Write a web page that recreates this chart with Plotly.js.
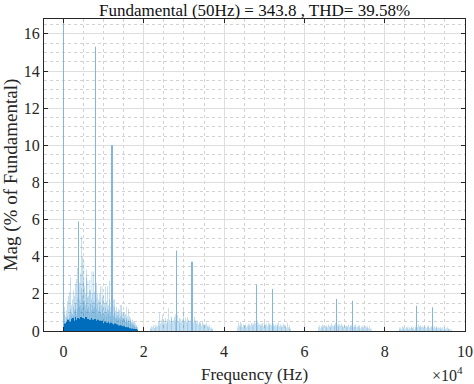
<!DOCTYPE html>
<html><head><meta charset="utf-8">
<script src="https://cdn.plot.ly/plotly-3.0.1.min.js"></script>
<style>html,body{margin:0;padding:0;background:#fff}#chart{width:474px;height:384px}</style>
</head><body><div id="chart"></div>
<script>
// ---- Data ----
const fundamentalHz = [50];
const fundamentalMag = [100];

// Band 1: 100 Hz bins from 100 Hz to 18500 Hz (light haze of harmonics)
const band1StartHz = 100, band1StepHz = 100;
const band1Mag = [
  0.6,0.9,1.3,0.5,0.8,0.4,1.1,0.7,0.5,1.6,
  0.8,0.6,1.9,0.9,0.7,2.1,1.2,2.9,0.8,1.4,
  1.0,1.7,0.9,2.2,1.3,0.8,1.9,1.1,2.5,1.2,
  1.5,0.9,2.8,1.2,3.4,1.8,2.0,2.0,1.3,2.6,
  1.7,3.1,1.4,5.1,2.3,1.2,4.0,1.9,2.7,1.5,
  3.8,1.6,2.4,1.1,2.0,1.4,2.9,3.3,1.2,1.8,
  2.7,1.3,1.9,2.2,1.0,2.75,1.5,2.2,1.1,1.7,
  3.2,1.4,2.0,1.2,3.2,1.6,2.1,1.3,2.0,2.4,
  1.8,2.6,1.2,1.5,2.0,0.9,1.7,1.1,2.0,1.3,
  1.6,2.4,1.0,1.4,0.9,2.4,1.2,1.8,0.8,1.9,
  1.1,1.5,0.9,2.4,1.3,0.8,1.6,1.0,2.4,1.2,
  0.9,1.4,1.1,1.7,2.7,1.0,0.8,1.3,0.9,1.5,
  1.6,1.2,0.9,1.7,0.8,1.3,1.0,1.7,0.7,1.1,
  0.9,0.7,1.3,0.8,1.0,0.6,1.2,0.9,0.7,1.1,
  1.4,0.8,0.6,1.0,1.4,0.7,0.9,0.6,1.0,0.7,
  0.8,0.6,1.0,0.5,0.9,1.3,0.7,0.6,0.8,0.5,
  1.2,0.6,0.5,0.8,0.4,0.7,0.5,0.6,0.4,0.5,
  0.4,0.6,0.3,0.5,0.4,0.3,0.5,0.3,0.4,0.2,
  0.3,0.2,0.3,0.2,0.1
];

// Band 1 dense floor: 200 Hz bins from 200 Hz to 18400 Hz
const band1FloorStartHz = 200, band1FloorStepHz = 200;
const band1FloorMag = [
  0.2,0.4,0.3,0.5,0.35,0.6,0.3,0.5,0.45,0.65,
  0.4,0.7,0.45,0.55,0.75,0.4,0.6,0.7,0.45,0.65,
  0.55,0.75,0.45,0.7,0.4,0.65,0.5,0.75,0.55,0.5,
  0.65,0.45,0.6,0.5,0.7,0.4,0.6,0.5,0.65,0.45,
  0.55,0.4,0.6,0.45,0.55,0.35,0.5,0.55,0.4,0.4,
  0.45,0.5,0.35,0.45,0.4,0.5,0.35,0.4,0.45,0.35,
  0.4,0.35,0.3,0.4,0.35,0.3,0.35,0.3,0.25,0.3,
  0.25,0.3,0.2,0.25,0.2,0.25,0.2,0.2,0.15,0.2,
  0.15,0.12,0.15,0.1,0.12,0.1,0.12,0.08,0.1,0.08,
  0.05,0.05
];

// Sideband clusters around multiples of the switching frequency (200 Hz bins)
const sidebandStepHz = 200;
const band2StartHz = 21600;
const band2Mag = [
  0.15,0.1,0.25,0.2,0.3,0.15,0.35,0.2,0.3,0.25,
  0.5,0.3,0.95,0.4,0.6,0.86,0.35,0.55,0.45,0.7,
  0.4,0.65,0.5,1.22,0.6,0.45,0.8,0.7,0.5,0.6,
  0.75,0.55,0.9,0.6,0.86,0.5,0.7,0.45,0.65,0.5,
  0.6,1.13,0.5,0.5,0.7,0.55,0.75,0.45,0.6,0.5,
  0.55,0.7,0.4,0.65,0.45,0.77,0.5,0.6,0.4,0.55,
  0.35,0.5,0.4,0.45,0.3,0.5,0.35,0.4,0.3,0.35,
  0.4,0.25,0.3,0.2,0.3,0.15,0.2,0.12,0.1
];
const band3StartHz = 43400;
const band3Mag = [
  0.2,0.45,0.3,0.5,0.25,0.4,0.2,0.35,0.3,0.25,
  0.35,0.2,0.3,0.4,0.25,0.35,0.3,0.45,0.3,0.4,
  0.35,0.5,0.4,0.45,0.3,0.55,0.4,0.35,0.3,0.4,
  0.3,0.45,0.25,0.5,0.35,0.3,0.4,0.25,0.45,0.3,
  0.4,0.35,0.3,0.5,0.25,0.4,0.3,0.35,0.25,0.4,
  0.3,0.45,0.25,0.35,0.2,0.3,0.25,0.4,0.2,0.3,
  0.25,0.15,0.45,0.2,0.3,0.15,0.1
];
const band4StartHz = 63600;
const band4Mag = [
  0.2,0.3,0.15,0.25,0.35,0.2,0.3,0.15,0.25,0.2,
  0.3,0.2,0.35,0.25,0.3,0.2,0.4,0.3,0.25,0.35,
  0.3,0.45,0.35,0.3,0.4,0.25,0.35,0.3,0.4,0.25,
  0.3,0.2,0.35,0.25,0.3,0.2,0.25,0.35,0.2,0.3,
  0.25,0.35,0.3,0.2,0.3,0.25,0.35,0.2,0.25,0.3,
  0.2,0.3,0.15,0.25,0.2,0.3,0.15,0.2,0.25,0.15,
  0.3,0.2,0.15,0.25,0.1,0.15
];
const band5StartHz = 83600;
const band5Mag = [
  0.1,0.2,0.15,0.1,0.25,0.15,0.2,0.1,0.15,0.2,
  0.15,0.25,0.1,0.2,0.15,0.2,0.25,0.15,0.2,0.1,
  0.2,0.3,0.25,0.2,0.35,0.25,0.2,0.3,0.2,0.25,
  0.2,0.15,0.25,0.2,0.15,0.25,0.2,0.3,0.15,0.2,
  0.25,0.2,0.3,0.2,0.25,0.15,0.2,0.25,0.15,0.2,
  0.15,0.2,0.1,0.15,0.2,0.1,0.15,0.2,0.1,0.15,
  0.2,0.1,0.15,0.1,0.05,0.1
];

// Dominant harmonic peaks
const peakHz  = [3700, 7900, 12100, 28200, 32000, 48000, 52000, 68000, 72000, 88000, 92000];
const peakMag = [5.9, 15.3, 10.0, 4.33, 3.73, 2.5, 2.26, 1.72, 1.63, 1.36, 1.28];

// Axis ticks
const xTickVals = [0, 20000, 40000, 60000, 80000, 100000];
const xTickText = ['0', '2', '4', '6', '8', '10'];
const yTickVals = [0, 2, 4, 6, 8, 10, 12, 14, 16];

// ---- Build traces ----
function binFreqs(start, step, n) {
  const out = [];
  for (let i = 0; i < n; i++) out.push(start + i * step);
  return out;
}
const hazeX = [].concat(
  binFreqs(band1StartHz, band1StepHz, band1Mag.length),
  binFreqs(band2StartHz, sidebandStepHz, band2Mag.length),
  binFreqs(band3StartHz, sidebandStepHz, band3Mag.length),
  binFreqs(band4StartHz, sidebandStepHz, band4Mag.length),
  binFreqs(band5StartHz, sidebandStepHz, band5Mag.length)
);
const hazeY = [].concat(band1Mag, band2Mag, band3Mag, band4Mag, band5Mag);

const SERIF = 'Liberation Serif';

const traces = [
  { type: 'bar', x: hazeX, y: hazeY, width: 55,
    marker: { color: 'rgba(0,114,189,0.99)', line: { width: 0 } }, hoverinfo: 'skip' },
  { type: 'bar', x: fundamentalHz.concat(peakHz), y: fundamentalMag.concat(peakMag), width: 60,
    marker: { color: 'rgb(130,182,225)', line: { width: 0 } }, hoverinfo: 'skip' },
  { type: 'bar', x: binFreqs(band1FloorStartHz, band1FloorStepHz, band1FloorMag.length), y: band1FloorMag, width: 200,
    marker: { color: 'rgb(0,108,188)', line: { width: 0 } }, hoverinfo: 'skip' }
];

const axisCommon = {
  ticks: 'inside', ticklen: 4, tickwidth: 1, tickcolor: '#262626',
  showline: true, linecolor: '#262626', linewidth: 1, mirror: 'ticks',
  showgrid: true, gridcolor: '#dedede', gridwidth: 1, zeroline: false,
  tickfont: { family: SERIF, size: 16, color: '#262626' }
};

const layout = {
  width: 474, height: 384,
  margin: { l: 44, r: 9, t: 19, b: 53 },
  paper_bgcolor: '#ffffff', plot_bgcolor: '#ffffff',
  barmode: 'overlay', showlegend: false,
  font: { family: SERIF, color: '#262626' },
  title: { text: 'Fundamental (50Hz) = 343.8 , THD= 39.58%', font: { family: SERIF, size: 17, color: '#111' },
           x: 0.5, xref: 'paper', xanchor: 'center', y: 1 - 10 / 384, yref: 'container', yanchor: 'middle' },
  xaxis: Object.assign({}, axisCommon, {
    range: [-4850, 100000], tickmode: 'array', tickvals: xTickVals, ticktext: xTickText,
    ticklabelstandoff: 6,
    minor: { tickmode: 'linear', tick0: 0, dtick: 5000, showgrid: true, gridcolor: '#d2d2d2', griddash: 'dot', gridwidth: 1, ticks: '' },
    title: { text: 'Frequency (Hz)', font: { family: SERIF, size: 17, color: '#262626' }, standoff: 8 }
  }),
  yaxis: Object.assign({}, axisCommon, {
    range: [0, 16.8], tickmode: 'array', tickvals: yTickVals,
    minor: { tickmode: 'linear', tick0: 0, dtick: 0.5, showgrid: true, gridcolor: '#d2d2d2', griddash: 'dot', gridwidth: 1, ticks: '' },
    title: { text: 'Mag (% of Fundamental)', font: { family: SERIF, size: 19, color: '#262626' }, standoff: 12 }
  }),
  annotations: [{
    text: '×10<sup>4</sup>', xref: 'paper', yref: 'paper', x: 1, y: -0.138,
    xanchor: 'right', yanchor: 'middle', showarrow: false, font: { family: SERIF, size: 16, color: '#262626' }
  }]
};

Plotly.newPlot('chart', traces, layout, { displayModeBar: false, responsive: false });
</script>
</body></html>
